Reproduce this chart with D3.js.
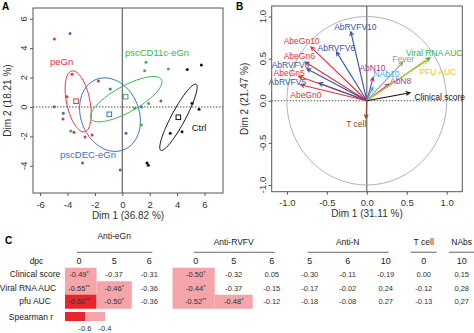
<!DOCTYPE html>
<html>
<head>
<meta charset="utf-8">
<script src="https://cdn.jsdelivr.net/npm/d3@7"></script>
<style>
	body { margin: 0; background: #fff; }
	svg { font-family: Arial, "Liberation Sans", sans-serif; }
</style>
</head>
<body>
<svg id="chart" width="474" height="333"></svg>
<script>
// panel A: individuals
const groupNames = ['peGn', 'pscDEC-eGn', 'pscCD11c-eGn', 'Ctrl'];
const groupColors = ['#e8323c', '#3a72b8', '#3cb44b', '#111111'];
const pointsPeGn = [[-4.96, 4.63], [-3.67, 2.22], [-4.04, 0.70], [-4.33, -0.82], [-3.53, -1.72], [-2.72, -2.04], [-2.21, -1.90], [-1.75, 1.77]];
const pointsDec = [[-3.82, 4.99], [-4.96, 0.02], [-4.31, -0.43], [-0.88, 1.22], [0.27, -1.79], [-2.90, -3.81], [-0.15, -4.29], [2.82, 0.41], [1.40, 0.0]];
const pointsCd11c = [[1.73, 3.04], [1.63, 2.47], [3.36, 2.59], [1.92, 0.23], [0.90, -0.09], [1.39, -1.22], [-3.77, -1.63]];
const pointsCtrl = [[4.74, 2.54], [5.77, 2.86], [5.09, 0.25], [5.60, -0.16], [3.50, -1.79], [4.36, -1.68], [1.80, -3.81], [1.90, -3.97]];
const centroids = [[-3.38, 0.39], [-0.95, -0.50], [0.24, 0.70], [4.09, -0.70]];
// ellipse: centre x, centre y, semi-major, semi-minor, angle (deg)
const ellipses = [[-3.22, 0.38, 2.12, 0.85, 103], [-0.9, -0.52, 2.6, 2.1, -62], [0.28, 0.53, 2.9, 0.9, 27], [4.1, -0.7, 2.59, 0.5, 60]];
const groupLabelAt = [[-5.28, 3.08], [-4.55, -3.27], [0.19, 3.70], [5.06, -1.41]];
const ticksA_x = [-6, -4, -2, 0, 2, 4, 6];
const ticksA_y = [-4, -2, 0, 2, 4, 6];

// panel B: variables
const varNames = ['AbRVFV10', 'AbeGn10', 'AbRVFV6', 'AbeGn6', 'AbRVFV0', 'AbeGn5', 'AbRVFV5', 'AbeGn0', 'AbN10', 'NAb10', 'AbN8', 'Fever', 'Viral RNA AUC', 'PFU AUC', 'Clinical score', 'T cell'];
const varDim1 = [-0.20, -0.70, -0.38, -0.77, -0.75, -0.85, -0.60, -0.83, 0.08, 0.075, 0.28, 0.45, 0.79, 0.76, 0.54, -0.01];
const varDim2 = [0.82, 0.64, 0.58, 0.46, 0.38, 0.29, 0.21, 0.19, 0.28, 0.16, 0.20, 0.46, 0.51, 0.48, 0.095, -0.21];
const varColors = ['#3b52a3', '#e8303c', '#3b52a3', '#e8303c', '#3b52a3', '#e8303c', '#3b52a3', '#e8303c', '#a0379a', '#2fb5e0', '#b03a9a', '#999999', '#2db34a', '#f5c03a', '#111111', '#8b4a2b'];
const varLabelAt = [[-0.408, 0.871], [-1.04, 0.713], [-0.617, 0.63], [-1.04, 0.534], [-1.19, 0.43], [-1.167, 0.333], [-1.23, 0.226], [-0.958, 0.063], [-0.092, 0.384], [0.083, 0.317], [0.29, 0.237], [0.32, 0.49], [0.49, 0.562], [0.658, 0.344], [0.596, 0.04], [-0.258, -0.277]];
const ticksB = [-1.0, -0.5, 0.0, 0.5, 1.0];

// panel C: correlation table
const tableGroups = ['Anti-eGn', 'Anti-RVFV', 'Anti-N', 'T cell', 'NAbs'];
const tableGroupSizes = [3, 3, 3, 1, 1];
const dpc = ['0', '5', '6', '0', '5', '6', '5', '6', '10', '0', '10'];
const rowNames = ['Clinical score', 'Viral RNA AUC', 'pfu AUC'];
const rowClinical = ['-0.49*', '-0.37', '-0.31', '-0.50*', '-0.32', '0.05', '-0.30', '-0.11', '-0.19', '0.00', '0,15'];
const rowViral = ['-0.55**', '-0.46*', '-0.36', '-0.44*', '-0.37', '-0.15', '-0.17', '-0.02', '0.24', '-0.12', '0,28'];
const rowPfu = ['-0.60**', '-0.50*', '-0.36', '-0.52**', '-0.48*', '-0.12', '-0.18', '-0.08', '0.27', '-0.13', '0,27'];
const legendValues = ['-0.6', '-0.4'];

const svg = d3.select('#chart');
const fontAxis = 9.5;

function boxAxes(g, x, y, xt, yt, fmt) {
	const [x0, x1] = x.range();
	const [y0, y1] = y.range();
	g.append('rect')
		.attr('x', x0).attr('y', y1)
		.attr('width', x1 - x0).attr('height', y0 - y1)
		.attr('fill', 'none').attr('stroke', '#555').attr('stroke-width', 1);
	g.append('g')
		.attr('transform', 'translate(0,' + y0 + ')')
		.call(d3.axisBottom(x).tickValues(xt).tickSize(3).tickFormat(fmt))
		.call(a => a.select('.domain').remove())
		.call(a => a.selectAll('line').attr('stroke', '#555'))
		.call(a => a.selectAll('text').attr('font-size', fontAxis).attr('fill', '#333').attr('dy', '0.9em'));
	g.append('g')
		.attr('transform', 'translate(' + x0 + ',0)')
		.call(d3.axisLeft(y).tickValues(yt).tickSize(3).tickFormat(''))
		.call(a => a.select('.domain').remove())
		.call(a => a.selectAll('line').attr('stroke', '#555'));
	// R draws the y tick labels turned to the vertical
	const labelX = x0 - 6;
	yt.forEach(function(d) {
		g.append('text')
			.attr('x', labelX).attr('y', y(d))
			.attr('transform', 'rotate(-90,' + labelX + ',' + y(d) + ')')
			.attr('text-anchor', 'middle')
			.attr('font-size', fontAxis).attr('fill', '#333')
			.text(fmt(d));
	});
	// zero lines
	g.append('line')
		.attr('x1', x(0)).attr('x2', x(0)).attr('y1', y1).attr('y2', y0)
		.attr('stroke', '#666').attr('stroke-width', 1.2);
	g.append('line')
		.attr('x1', x0).attr('x2', x1).attr('y1', y(0)).attr('y2', y(0))
		.attr('stroke', '#555').attr('stroke-width', 1).attr('stroke-dasharray', '1.5,1.5');
}

// ---------- panel A ----------
const gA = svg.append('g');
const xA = d3.scaleLinear().domain([-6.52, 7.35]).range([33, 223]);
const yA = d3.scaleLinear().domain([-5.85, 6.73]).range([193, 8]);
boxAxes(gA, xA, yA, ticksA_x, ticksA_y, d => String(d));

gA.append('text').attr('x', 2).attr('y', 10).attr('font-size', 10).attr('font-weight', 'bold').text('A');
gA.append('text').attr('x', (33 + 223) / 2).attr('y', 219).attr('text-anchor', 'middle').attr('font-size', 10).attr('fill', '#333').text('Dim 1 (36.82 %)');
gA.append('text').attr('transform', 'translate(11,' + (8 + 193) / 2 + ') rotate(-90)').attr('text-anchor', 'middle').attr('font-size', 10).attr('fill', '#333').text('Dim 2 (18.21 %)');

const groupPoints = [pointsPeGn, pointsDec, pointsCd11c, pointsCtrl];
const ellipseLine = d3.line().x(d => xA(d[0])).y(d => yA(d[1])).curve(d3.curveLinearClosed);

ellipses.forEach(function(e, i) {
	const [cx, cy, a, b, ang] = e;
	const th = ang * Math.PI / 180;
	const pts = d3.range(0, 360, 4).map(function(t) {
		const r = t * Math.PI / 180;
		const u = a * Math.cos(r), v = b * Math.sin(r);
		return [cx + u * Math.cos(th) - v * Math.sin(th), cy + u * Math.sin(th) + v * Math.cos(th)];
	});
	gA.append('path').attr('d', ellipseLine(pts))
		.attr('fill', 'none').attr('stroke', groupColors[i]).attr('stroke-width', 1);
});

groupPoints.forEach(function(pts, i) {
	gA.append('g').selectAll('circle').data(pts).join('circle')
		.attr('cx', d => xA(d[0])).attr('cy', d => yA(d[1]))
		.attr('r', 1.5).attr('fill', groupColors[i]);
});

gA.append('g').selectAll('rect').data(centroids).join('rect')
	.attr('x', d => xA(d[0]) - 2.3).attr('y', d => yA(d[1]) - 2.3)
	.attr('width', 4.6).attr('height', 4.6)
	.attr('fill', 'none').attr('stroke', (d, i) => groupColors[i]).attr('stroke-width', 1);

gA.append('g').selectAll('text').data(groupNames).join('text')
	.attr('x', (d, i) => xA(groupLabelAt[i][0])).attr('y', (d, i) => yA(groupLabelAt[i][1]))
	.attr('dy', '0.35em').attr('font-size', 9.5).attr('fill', (d, i) => groupColors[i])
	.text(d => d);

// ---------- panel B ----------
const gB = svg.append('g');
const xB = d3.scaleLinear().domain([-1.19, 1.195]).range([271.7, 462.3]);
const yB = d3.scaleLinear().domain([-1.08, 1.125]).range([191.7, 6]);
boxAxes(gB, xB, yB, ticksB, ticksB, d => d.toFixed(1));

gB.append('text').attr('x', 236).attr('y', 10).attr('font-size', 10).attr('font-weight', 'bold').text('B');
gB.append('text').attr('x', (271.7 + 462.3) / 2).attr('y', 217).attr('text-anchor', 'middle').attr('font-size', 10).attr('fill', '#333').text('Dim 1 (31.11 %)');
gB.append('text').attr('transform', 'translate(248,' + (6 + 191.7) / 2 + ') rotate(-90)').attr('text-anchor', 'middle').attr('font-size', 10).attr('fill', '#333').text('Dim 2 (21.47 %)');

const circlePts = d3.range(0, 360, 3).map(t => [Math.cos(t * Math.PI / 180), Math.sin(t * Math.PI / 180)]);
gB.append('path')
	.attr('d', d3.line().x(d => xB(d[0])).y(d => yB(d[1])).curve(d3.curveLinearClosed)(circlePts))
	.attr('fill', 'none').attr('stroke', '#aaa').attr('stroke-width', 0.9);

varNames.forEach(function(name, i) {
	const x0 = xB(0), y0 = yB(0);
	const x1 = xB(varDim1[i]), y1 = yB(varDim2[i]);
	const ang = Math.atan2(y1 - y0, x1 - x0);
	const h = 4.5, spread = 0.45;
	const p = 'M' + x0 + ',' + y0 + 'L' + x1 + ',' + y1 +
		'M' + (x1 - h * Math.cos(ang - spread)) + ',' + (y1 - h * Math.sin(ang - spread)) +
		'L' + x1 + ',' + y1 +
		'L' + (x1 - h * Math.cos(ang + spread)) + ',' + (y1 - h * Math.sin(ang + spread));
	gB.append('path').attr('d', p)
		.attr('fill', 'none').attr('stroke', varColors[i]).attr('stroke-width', 1.1);
});

gB.append('g').selectAll('text').data(varNames).join('text')
	.attr('x', (d, i) => xB(varLabelAt[i][0])).attr('y', (d, i) => yB(varLabelAt[i][1]))
	.attr('dy', '0.35em').attr('font-size', 8.5).attr('fill', (d, i) => varColors[i])
	.text(d => d);

// ---------- panel C ----------
const gC = svg.append('g');
// column positions: Anti-eGn columns sit a bit closer together
const colX = d3.scaleLinear().domain([0, 2, 3, 10]).range([79, 149.3, 195.7, 461.7]);
const rowY = d3.scalePoint().domain(d3.range(rowNames.length)).range([274.5, 301.5]);
const rowH = rowY.step();
const lightRed = '#f5a4a9', darkRed = '#e8252d';

function cellFill(v) {
	if (v.indexOf('*') < 0) return null;
	return parseFloat(v) <= -0.58 ? darkRed : lightRed;
}
function cellLeft(ci) { return ci === 0 ? colX(0) - 14 : (colX(ci - 1) + colX(ci)) / 2; }
function cellRight(ci) { return (colX(ci) + colX(ci + 1)) / 2; }

gC.append('text').attr('x', 5).attr('y', 244).attr('font-size', 10).attr('font-weight', 'bold').text('C');

let start = 0;
tableGroups.forEach(function(name, gi) {
	const n = tableGroupSizes[gi];
	const a = colX(start), b = colX(start + n - 1);
	const padL = n > 1 ? 2 : 13, padR = n > 1 ? 3 : 13;
	const ly = gi === 0 ? 238.5 : 245;
	gC.append('text').attr('x', (a + b) / 2).attr('y', ly)
		.attr('text-anchor', 'middle').attr('font-size', 8.5).attr('fill', '#222').text(name);
	gC.append('line').attr('x1', a - padL).attr('x2', Math.min(b + padR, 478)).attr('y1', 252.3).attr('y2', 252.3)
		.attr('stroke', '#888').attr('stroke-width', 1.3);
	start += n;
});

gC.append('text').attr('x', 36.5).attr('y', 261).attr('dy', '0.35em').attr('text-anchor', 'middle').attr('font-size', 8.5).attr('fill', '#222').text('dpc');
gC.append('g').selectAll('text').data(dpc).join('text')
	.attr('x', (d, i) => colX(i)).attr('y', 261).attr('dy', '0.35em')
	.attr('text-anchor', 'middle').attr('font-size', 9).attr('fill', '#222').text(d => d);

const rows = [rowClinical, rowViral, rowPfu];
rows.forEach(function(vals, ri) {
	const y = rowY(ri);
	gC.append('text').attr('x', ri === 1 ? 28 : 35).attr('y', y).attr('dy', '0.35em')
		.attr('text-anchor', 'middle').attr('font-size', 8.5).attr('fill', '#222').text(rowNames[ri]);
	vals.forEach(function(v, ci) {
		const f = cellFill(v);
		if (f) gC.append('rect')
			.attr('x', cellLeft(ci)).attr('y', y - rowH / 2)
			.attr('width', cellRight(ci) - cellLeft(ci)).attr('height', rowH + 0.5).attr('fill', f);
	});
	vals.forEach(function(v, ci) {
		const num = v.replace(/\*/g, '');
		const stars = v.slice(num.length);
		const t = gC.append('text').attr('x', colX(ci)).attr('y', y).attr('dy', '0.35em')
			.attr('text-anchor', 'middle').attr('font-size', 7.5).attr('fill', '#333');
		t.append('tspan').text(num);
		if (stars) t.append('tspan').attr('font-size', 5.5).attr('dy', '-0.3em').text(stars);
	});
});

// colour legend
gC.append('text').attr('x', 31).attr('y', 317).attr('dy', '0.35em').attr('text-anchor', 'middle').attr('font-size', 8.5).attr('fill', '#222').text('Spearman r');
const legX = d3.scalePoint().domain(legendValues).range([85, 105]);
gC.append('g').selectAll('rect').data(legendValues).join('rect')
	.attr('x', d => legX(d) - 20).attr('y', 312)
	.attr('width', 20).attr('height', 9)
	.attr('fill', (d, i) => i === 0 ? darkRed : lightRed);
gC.append('g').selectAll('text').data(legendValues).join('text')
	.attr('x', d => legX(d)).attr('y', 328.5).attr('dy', '0.35em')
	.attr('text-anchor', 'middle').attr('font-size', 7.5).attr('fill', '#333').text(d => d);
</script>
</body>
</html>
